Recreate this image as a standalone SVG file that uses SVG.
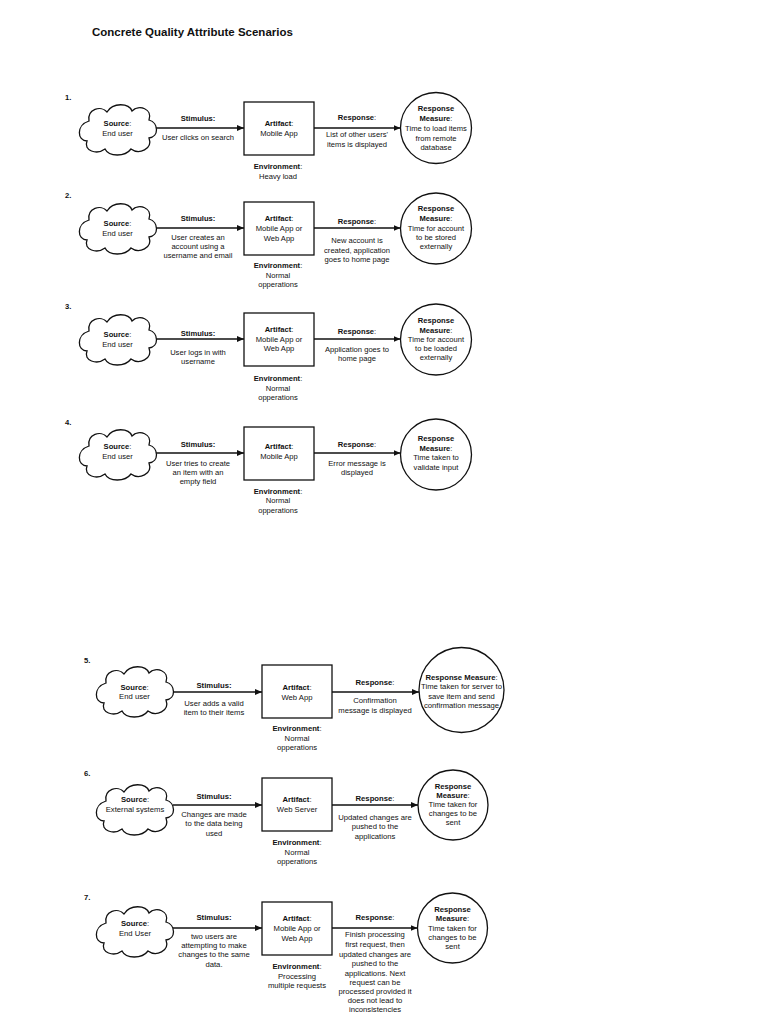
<svg xmlns="http://www.w3.org/2000/svg" xmlns:xlink="http://www.w3.org/1999/xlink" width="768" height="1024" viewBox="0 0 768 1024">
<style>
text{font-family:"Liberation Sans",Arial,sans-serif;fill:#111;text-anchor:middle}
.p1{font-size:7.6px}
.p2{font-size:7.7px}
.b{font-weight:bold}
.num{font-weight:bold;text-anchor:start}
.title{font-size:11.5px;font-weight:bold;text-anchor:start}
.shape{fill:#fff;stroke:#111;stroke-width:1.3}
.edge{fill:none;stroke:#111;stroke-width:1.3;marker-end:url(#arr)}
</style>
<defs>
<marker id="arr" markerWidth="8" markerHeight="8" refX="7" refY="4" orient="auto" markerUnits="userSpaceOnUse"><path d="M0,1 L7,4 L0,7 Z" fill="#111"/></marker>
<path id="cloud" d="M12,18 C10,6 24,2 30,9 C36,-1 52,0 55,8 C62,1 76,6 72,17 C82,20 82,34 72,35 C76,46 62,52 54,46 C48,54 32,54 28,46 C20,52 6,48 10,38 C0,38 -1,22 12,18 Z"/>
</defs>
<rect width="768" height="1024" fill="#fff"/>
<text class="title" x="92" y="36">Concrete Quality Attribute Scenarios</text>

<g id="connectors">
<path class="edge" d="M156,128 H244"/>
<path class="edge" d="M314,128 H400.5"/>
<path class="edge" d="M156,228 H244"/>
<path class="edge" d="M314,228 H400.5"/>
<path class="edge" d="M156,339 H244"/>
<path class="edge" d="M314,339 H400.5"/>
<path class="edge" d="M156,453 H244"/>
<path class="edge" d="M314,453 H400.5"/>
<path class="edge" d="M173,692 H262"/>
<path class="edge" d="M332,692 H419"/>
<path class="edge" d="M173,805 H262"/>
<path class="edge" d="M332,805 H418"/>
<path class="edge" d="M173,928 H262"/>
<path class="edge" d="M332,928 H417.5"/>
<g class="p1">
<text x="198" y="120.7" class="b">Stimulus:</text>
<text x="198" y="139.7">User clicks on search</text>
<text x="357" y="119.7"><tspan class="b">Response</tspan>:</text>
<text x="357" y="136.7">List of other users'</text>
<text x="357" y="146.7">items is displayed</text>
<text x="198" y="220.7" class="b">Stimulus:</text>
<text x="198" y="239.7">User creates an</text>
<text x="198" y="248.7">account using a</text>
<text x="198" y="257.7">username and email</text>
<text x="357" y="223.7"><tspan class="b">Response</tspan>:</text>
<text x="357" y="242.7">New account is</text>
<text x="357" y="252.7">created, application</text>
<text x="357" y="261.7">goes to home page</text>
<text x="198" y="335.7" class="b">Stimulus:</text>
<text x="198" y="354.7">User logs in with</text>
<text x="198" y="363.7">username</text>
<text x="357" y="333.7"><tspan class="b">Response</tspan>:</text>
<text x="357" y="351.7">Application goes to</text>
<text x="357" y="360.7">home page</text>
<text x="198" y="446.7" class="b">Stimulus:</text>
<text x="198" y="465.7">User tries to create</text>
<text x="198" y="474.7">an item with an</text>
<text x="198" y="483.7">empty field</text>
<text x="357" y="446.7"><tspan class="b">Response</tspan>:</text>
<text x="357" y="465.7">Error message is</text>
<text x="357" y="474.7">displayed</text>
</g>
<g class="p2">
<text x="214" y="688" class="b">Stimulus:</text>
<text x="214" y="706">User adds a valid</text>
<text x="214" y="715">item to their items</text>
<text x="375" y="685"><tspan class="b">Response</tspan>:</text>
<text x="375" y="703">Confirmation</text>
<text x="375" y="713">message is displayed</text>
<text x="214" y="799" class="b">Stimulus:</text>
<text x="214" y="817">Changes are made</text>
<text x="214" y="826">to the data being</text>
<text x="214" y="836">used</text>
<text x="375" y="801"><tspan class="b">Response</tspan>:</text>
<text x="375" y="820">Updated changes are</text>
<text x="375" y="829">pushed to the</text>
<text x="375" y="839">applications</text>
<text x="214" y="920" class="b">Stimulus:</text>
<text x="214" y="939">two users are</text>
<text x="214" y="948">attempting to make</text>
<text x="214" y="957">changes to the same</text>
<text x="214" y="967">data.</text>
<text x="375" y="920"><tspan class="b">Response</tspan>:</text>
<text x="375" y="937">Finish processing</text>
<text x="375" y="947">first request, then</text>
<text x="375" y="957">updated changes are</text>
<text x="375" y="966">pushed to the</text>
<text x="375" y="976">applications. Next</text>
<text x="375" y="985">request can be</text>
<text x="375" y="994">processed provided it</text>
<text x="375" y="1003">does not lead to</text>
<text x="375" y="1012">inconsistencies</text>
</g>
</g>

<!-- Scenario 1 -->
<g class="p1">
<text class="num" x="65" y="100">1.</text>
<g id="s1-source"><use xlink:href="#cloud" href="#cloud" x="77" y="103" class="shape"/>
<text x="117.5" y="125.7"><tspan class="b">Source</tspan>:</text><text x="117.5" y="135.7">End user</text></g>
<g id="s1-artifact"><rect class="shape" x="244" y="102" width="70" height="53"/>
<text x="279" y="125.7"><tspan class="b">Artifact</tspan>:</text><text x="279" y="135.7">Mobile App</text>
<text x="278" y="168.7"><tspan class="b">Environment</tspan>:</text><text x="278" y="178.7">Heavy load</text></g>
<g id="s1-measure"><circle class="shape" cx="436" cy="128" r="35.5"/>
<text x="436" y="110.7" class="b">Response</text><text x="436" y="120.7"><tspan class="b">Measure</tspan>:</text>
<text x="436" y="130.7">Time to load items</text><text x="436" y="140.7">from remote</text><text x="436" y="149.7">database</text></g>
</g>

<!-- Scenario 2 -->
<g class="p1">
<text class="num" x="65" y="198">2.</text>
<g id="s2-source"><use xlink:href="#cloud" href="#cloud" x="77" y="202" class="shape"/>
<text x="117.5" y="225.7"><tspan class="b">Source</tspan>:</text><text x="117.5" y="235.7">End user</text></g>
<g id="s2-artifact"><rect class="shape" x="244" y="202" width="70" height="53"/>
<text x="279" y="220.7"><tspan class="b">Artifact</tspan>:</text><text x="279" y="230.7">Mobile App or</text><text x="279" y="240.7">Web App</text>
<text x="278" y="267.7"><tspan class="b">Environment</tspan>:</text><text x="278" y="277.7">Normal</text><text x="278" y="286.7">opperations</text></g>
<g id="s2-measure"><circle class="shape" cx="436" cy="228.5" r="35.5"/>
<text x="436" y="210.7" class="b">Response</text><text x="436" y="220.7"><tspan class="b">Measure</tspan>:</text>
<text x="436" y="230.7">Time for account</text><text x="436" y="239.7">to be stored</text><text x="436" y="248.7">externally</text></g>
</g>

<!-- Scenario 3 -->
<g class="p1">
<text class="num" x="65" y="309">3.</text>
<g id="s3-source"><use xlink:href="#cloud" href="#cloud" x="77" y="313" class="shape"/>
<text x="117.5" y="336.7"><tspan class="b">Source</tspan>:</text><text x="117.5" y="346.7">End user</text></g>
<g id="s3-artifact"><rect class="shape" x="244" y="313" width="70" height="53"/>
<text x="279" y="331.7"><tspan class="b">Artifact</tspan>:</text><text x="279" y="341.7">Mobile App or</text><text x="279" y="350.7">Web App</text>
<text x="278" y="380.7"><tspan class="b">Environment</tspan>:</text><text x="278" y="390.7">Normal</text><text x="278" y="399.7">opperations</text></g>
<g id="s3-measure"><circle class="shape" cx="436" cy="339.5" r="35.5"/>
<text x="436" y="322.7" class="b">Response</text><text x="436" y="332.7"><tspan class="b">Measure</tspan>:</text>
<text x="436" y="341.7">Time for account</text><text x="436" y="350.7">to be loaded</text><text x="436" y="359.7">externally</text></g>
</g>

<!-- Scenario 4 -->
<g class="p1">
<text class="num" x="65" y="425">4.</text>
<g id="s4-source"><use xlink:href="#cloud" href="#cloud" x="77" y="428" class="shape"/>
<text x="117.5" y="448.7"><tspan class="b">Source</tspan>:</text><text x="117.5" y="458.7">End user</text></g>
<g id="s4-artifact"><rect class="shape" x="244" y="427" width="70" height="53"/>
<text x="279" y="448.7"><tspan class="b">Artifact</tspan>:</text><text x="279" y="458.7">Mobile App</text>
<text x="278" y="493.7"><tspan class="b">Environment</tspan>:</text><text x="278" y="502.7">Normal</text><text x="278" y="512.7">opperations</text></g>
<g id="s4-measure"><circle class="shape" cx="436" cy="454.5" r="35.5"/>
<text x="436" y="440.7" class="b">Response</text><text x="436" y="450.7"><tspan class="b">Measure</tspan>:</text>
<text x="436" y="459.7">Time taken to</text><text x="436" y="469.7">validate input</text></g>
</g>

<!-- Scenario 5 -->
<g class="p2">
<text class="num" x="84" y="663">5.</text>
<g id="s5-source"><use xlink:href="#cloud" href="#cloud" x="94" y="665" class="shape"/>
<text x="134.5" y="690"><tspan class="b">Source</tspan>:</text><text x="134.5" y="699">End user</text></g>
<g id="s5-artifact"><rect class="shape" x="262" y="665" width="70" height="53"/>
<text x="297" y="690"><tspan class="b">Artifact</tspan>:</text><text x="297" y="700">Web App</text>
<text x="297" y="731"><tspan class="b">Environment</tspan>:</text><text x="297" y="741">Normal</text><text x="297" y="750">opperations</text></g>
<g id="s5-measure"><circle class="shape" cx="461.5" cy="690" r="42.5"/>
<text x="461.5" y="680"><tspan class="b">Response Measure</tspan>:</text>
<text x="461.5" y="689">Time taken for server to</text><text x="461.5" y="699">save item and send</text><text x="461.5" y="708">confirmation message</text></g>
</g>

<!-- Scenario 6 -->
<g class="p2">
<text class="num" x="84" y="776">6.</text>
<g id="s6-source"><use xlink:href="#cloud" href="#cloud" x="94" y="783" class="shape"/>
<text x="135" y="802"><tspan class="b">Source</tspan>:</text><text x="135" y="812">External systems</text></g>
<g id="s6-artifact"><rect class="shape" x="262" y="778" width="70" height="53"/>
<text x="297" y="802"><tspan class="b">Artifact</tspan>:</text><text x="297" y="812">Web Server</text>
<text x="297" y="845"><tspan class="b">Environment</tspan>:</text><text x="297" y="855">Normal</text><text x="297" y="864">opperations</text></g>
<g id="s6-measure"><circle class="shape" cx="453" cy="805" r="35"/>
<text x="453" y="789" class="b">Response</text><text x="453" y="798"><tspan class="b">Measure</tspan>:</text>
<text x="453" y="807">Time taken for</text><text x="453" y="816">changes to be</text><text x="453" y="825">sent</text></g>
</g>

<!-- Scenario 7 -->
<g class="p2">
<text class="num" x="84" y="900">7.</text>
<g id="s7-source"><use xlink:href="#cloud" href="#cloud" x="94" y="905" class="shape"/>
<text x="135" y="926"><tspan class="b">Source</tspan>:</text><text x="135" y="936">End User</text></g>
<g id="s7-artifact"><rect class="shape" x="262" y="902" width="70" height="53"/>
<text x="297" y="921"><tspan class="b">Artifact</tspan>:</text><text x="297" y="931">Mobile App or</text><text x="297" y="941">Web App</text>
<text x="297" y="969"><tspan class="b">Environment</tspan>:</text><text x="297" y="979">Processing</text><text x="297" y="988">multiple requests</text></g>
<g id="s7-measure"><circle class="shape" cx="452.5" cy="928" r="35"/>
<text x="452.5" y="912" class="b">Response</text><text x="452.5" y="921"><tspan class="b">Measure</tspan>:</text>
<text x="452.5" y="931">Time taken for</text><text x="452.5" y="940">changes to be</text><text x="452.5" y="949">sent</text></g>
</g>
</svg>
